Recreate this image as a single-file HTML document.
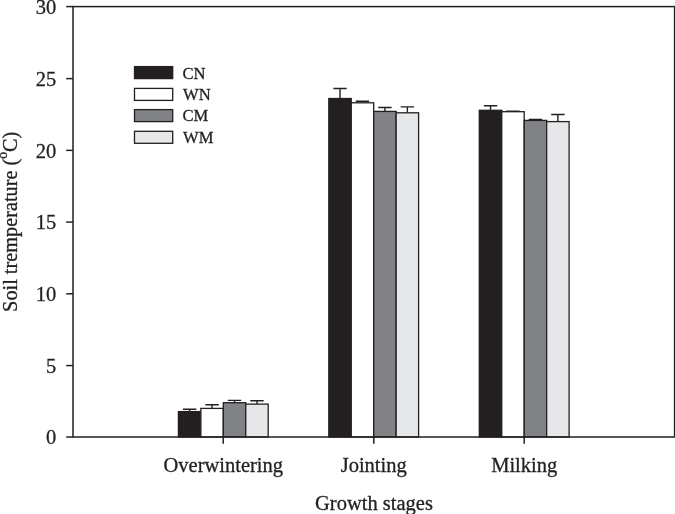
<!DOCTYPE html>
<html lang="en"><head><meta charset="utf-8"><title>Soil temperature by growth stage</title>
<style>html,body{margin:0;padding:0;background:#fff}body{width:675px;height:514px;overflow:hidden}svg{display:block}text{stroke:#231f20;stroke-width:.3px}</style>
</head><body>
<svg width="675" height="514" viewBox="0 0 675 514" font-family="'Liberation Serif', 'Times New Roman', serif" fill="#231f20">
<rect x="0" y="0" width="675" height="514" fill="#fff"/>
<g>
<path d="M189.62 411.60V409.30M182.93 409.30H196.32" stroke="#231f20" stroke-width="1.4" fill="none"/>
<rect x="178.40" y="411.60" width="22.45" height="25.40" fill="#231f20" stroke="#231f20" stroke-width="1.3"/>
<path d="M212.07 408.40V404.70M205.38 404.70H218.77" stroke="#231f20" stroke-width="1.4" fill="none"/>
<rect x="200.85" y="408.40" width="22.45" height="28.60" fill="#ffffff" stroke="#231f20" stroke-width="1.3"/>
<path d="M234.53 402.70V400.40M227.83 400.40H241.22" stroke="#231f20" stroke-width="1.4" fill="none"/>
<rect x="223.30" y="402.70" width="22.45" height="34.30" fill="#808285" stroke="#231f20" stroke-width="1.3"/>
<path d="M256.98 404.10V400.70M250.28 400.70H263.68" stroke="#231f20" stroke-width="1.4" fill="none"/>
<rect x="245.75" y="404.10" width="22.45" height="32.90" fill="#e6e7e8" stroke="#231f20" stroke-width="1.3"/>
</g>
<g>
<path d="M340.03 98.50V88.50M333.33 88.50H346.73" stroke="#231f20" stroke-width="1.4" fill="none"/>
<rect x="328.80" y="98.50" width="22.45" height="338.50" fill="#231f20" stroke="#231f20" stroke-width="1.3"/>
<path d="M362.48 102.80V101.30M355.78 101.30H369.18" stroke="#231f20" stroke-width="1.4" fill="none"/>
<rect x="351.25" y="102.80" width="22.45" height="334.20" fill="#ffffff" stroke="#231f20" stroke-width="1.3"/>
<path d="M384.93 111.40V107.50M378.23 107.50H391.62" stroke="#231f20" stroke-width="1.4" fill="none"/>
<rect x="373.70" y="111.40" width="22.45" height="325.60" fill="#808285" stroke="#231f20" stroke-width="1.3"/>
<path d="M407.38 112.80V106.90M400.68 106.90H414.07" stroke="#231f20" stroke-width="1.4" fill="none"/>
<rect x="396.15" y="112.80" width="22.45" height="324.20" fill="#e6e7e8" stroke="#231f20" stroke-width="1.3"/>
</g>
<g>
<path d="M490.53 110.30V105.80M483.83 105.80H497.23" stroke="#231f20" stroke-width="1.4" fill="none"/>
<rect x="479.30" y="110.30" width="22.45" height="326.70" fill="#231f20" stroke="#231f20" stroke-width="1.3"/>
<path d="M512.98 111.70V111.20M506.28 111.20H519.68" stroke="#231f20" stroke-width="1.4" fill="none"/>
<rect x="501.75" y="111.70" width="22.45" height="325.30" fill="#ffffff" stroke="#231f20" stroke-width="1.3"/>
<path d="M535.43 120.40V119.40M528.73 119.40H542.13" stroke="#231f20" stroke-width="1.4" fill="none"/>
<rect x="524.20" y="120.40" width="22.45" height="316.60" fill="#808285" stroke="#231f20" stroke-width="1.3"/>
<path d="M557.88 121.60V114.50M551.18 114.50H564.58" stroke="#231f20" stroke-width="1.4" fill="none"/>
<rect x="546.65" y="121.60" width="22.45" height="315.40" fill="#e6e7e8" stroke="#231f20" stroke-width="1.3"/>
</g>
<rect x="73.0" y="6.6" width="601.60" height="430.40" fill="none" stroke="#231f20" stroke-width="1.5"/>
<line x1="66.20" y1="437.00" x2="73.0" y2="437.00" stroke="#231f20" stroke-width="1.5"/>
<text x="56.3" y="444.20" font-size="20.5" text-anchor="end">0</text>
<line x1="66.20" y1="365.57" x2="73.0" y2="365.57" stroke="#231f20" stroke-width="1.5"/>
<text x="56.3" y="372.77" font-size="20.5" text-anchor="end">5</text>
<line x1="66.20" y1="293.83" x2="73.0" y2="293.83" stroke="#231f20" stroke-width="1.5"/>
<text x="56.3" y="301.03" font-size="20.5" text-anchor="end">10</text>
<line x1="66.20" y1="222.10" x2="73.0" y2="222.10" stroke="#231f20" stroke-width="1.5"/>
<text x="56.3" y="229.30" font-size="20.5" text-anchor="end">15</text>
<line x1="66.20" y1="150.37" x2="73.0" y2="150.37" stroke="#231f20" stroke-width="1.5"/>
<text x="56.3" y="157.57" font-size="20.5" text-anchor="end">20</text>
<line x1="66.20" y1="78.63" x2="73.0" y2="78.63" stroke="#231f20" stroke-width="1.5"/>
<text x="56.3" y="85.83" font-size="20.5" text-anchor="end">25</text>
<line x1="66.20" y1="6.60" x2="73.0" y2="6.60" stroke="#231f20" stroke-width="1.5"/>
<text x="56.3" y="13.80" font-size="20.5" text-anchor="end">30</text>
<line x1="223.20" y1="437.0" x2="223.20" y2="443.80" stroke="#231f20" stroke-width="1.5"/>
<text x="223.30" y="472.1" font-size="20.5" text-anchor="middle">Overwintering</text>
<line x1="373.80" y1="437.0" x2="373.80" y2="443.80" stroke="#231f20" stroke-width="1.5"/>
<text x="373.70" y="472.1" font-size="20.5" text-anchor="middle">Jointing</text>
<line x1="524.20" y1="437.0" x2="524.20" y2="443.80" stroke="#231f20" stroke-width="1.5"/>
<text x="524.20" y="472.1" font-size="20.5" text-anchor="middle">Milking</text>
<text x="374" y="509.8" font-size="20.5" text-anchor="middle">Growth stages</text>
<text transform="translate(16.5 311.9) rotate(-90) scale(1 1.04)" font-size="20.3">Soil tremperature (<tspan font-size="13.5" dy="-9.6">o</tspan><tspan dy="9.6">C)</tspan></text>
<rect x="134.5" y="66.60" width="38.2" height="12.0" fill="#231f20" stroke="#231f20" stroke-width="1.3"/>
<text x="182.5" y="78.70" font-size="16.6">CN</text>
<rect x="134.5" y="88.40" width="38.2" height="12.0" fill="#ffffff" stroke="#231f20" stroke-width="1.3"/>
<text x="183.1" y="100.05" font-size="16.6">WN</text>
<rect x="134.5" y="109.60" width="38.2" height="12.0" fill="#808285" stroke="#231f20" stroke-width="1.3"/>
<text x="182.5" y="121.40" font-size="16.6">CM</text>
<rect x="134.5" y="131.30" width="38.2" height="12.0" fill="#e6e7e8" stroke="#231f20" stroke-width="1.3"/>
<text x="183.1" y="142.75" font-size="16.6">WM</text>
</svg>
</body></html>
